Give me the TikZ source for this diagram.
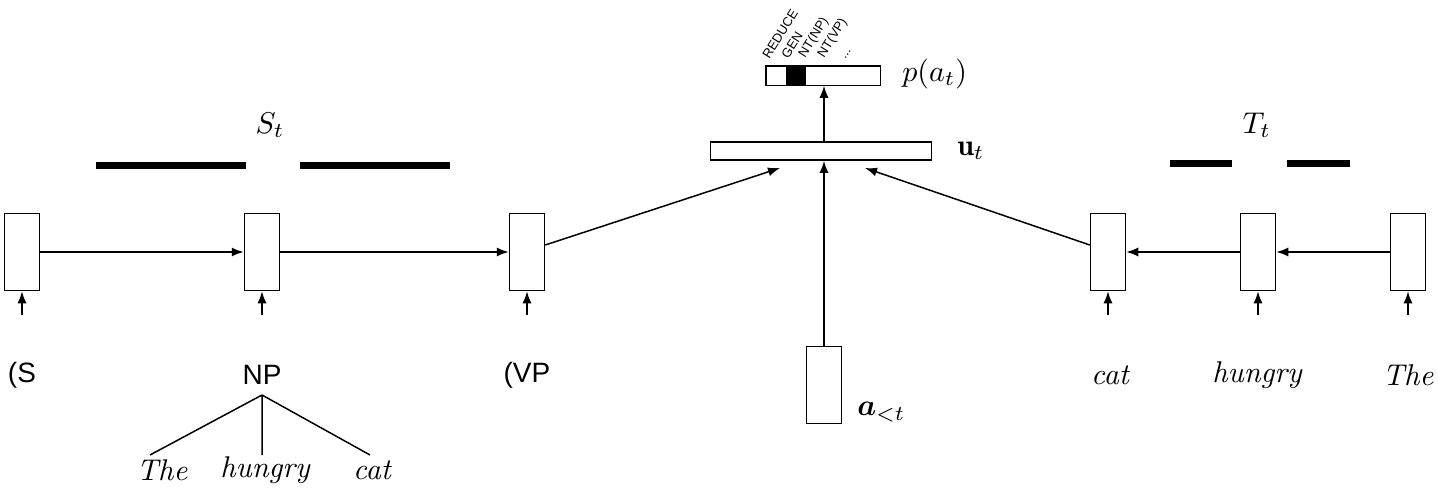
\documentclass[tikz,border=0pt]{standalone}
\usepackage{amsmath}
\usepackage{fontspec}
\newfontfamily\helv{Liberation Sans}
\usetikzlibrary{arrows.meta}
\begin{document}
\begin{tikzpicture}[x=1pt,y=-1pt,line width=1.5pt,
 box/.style={draw,fill=white,inner sep=0,minimum width=35pt,minimum height=77pt},
 arr/.style={-{Latex[length=12pt,width=9pt]}},
 bar/.style={line width=7pt},
 sl/.style={font=\helv\fontsize{28}{30}\selectfont},
 it/.style={font=\itshape,scale=3},
 mt/.style={scale=3},
 small/.style={font=\helv\fontsize{13}{14}\selectfont,rotate=58,anchor=south west,inner sep=1pt}]
\useasboundingbox (0,0) rectangle (1438,495);
% left stack
\node[box] (b1) at (22,252) {};
\node[box] (b2) at (262,252) {};
\node[box] (b3) at (527,252) {};
\node[sl] (l1) at (22,375) {(S};
\node[sl] (l2) at (262,375) {NP};
\node[sl] (l3) at (527,375) {(VP};
\foreach \i in {1,2,3}{\draw[arr] (b\i.south)++(0,24) -- (b\i.south);}
\draw[arr] (b1.east) -- (b2.west);
\draw[arr] (b2.east) -- (b3.west);
\node[mt] (St) at (270,125) {$S_t$};
\draw[bar] (96,165) -- (246,165);
\draw[bar] (300,165) -- (450,165);
% tree
\coordinate (np) at (262,395);
\node[it] (w1) at (162,470) {The};
\node[it] (w2) at (265,470) {hungry};
\node[it] (w3) at (372,470) {cat};
\draw (np) -- (150,455) (np) -- (262,455) (np) -- (370,455);
% right stack
\node[box] (r1) at (1108,252) {};
\node[box] (r2) at (1258,252) {};
\node[box] (r3) at (1408,252) {};
\node[it] (m1) at (1110,375) {cat};
\node[it] (m2) at (1257,375) {hungry};
\node[it] (m3) at (1408,375) {The};
\foreach \i in {1,2,3}{\draw[arr] (r\i.south)++(0,24) -- (r\i.south);}
\draw[arr] (r3.west) -- (r2.east);
\draw[arr] (r2.west) -- (r1.east);
\node[mt] (Tt) at (1257,125) {$T_t$};
\draw[bar] (1170,163) -- (1232,163);
\draw[bar] (1287,163) -- (1350,163);
% center
\node[draw,minimum width=221pt,minimum height=18pt,inner sep=0] (u) at (821,151) {};
\node[mt,anchor=west] (ul) at (945,151) {$\mathbf{u}_t$};
\node[box] (a) at (824,385) {};
\node[mt,anchor=west] (al) at (845,412) {$\boldsymbol{a}_{<t}$};
\draw[arr] (a.north) -- (a.north |- u.south);
\draw[arr] (b3.east |- 0,245) -- (780,168);
\draw[arr] (r1.west |- 0,245) -- (865,168);
\node[minimum width=113pt,minimum height=18pt,inner sep=0] (p) at (823,76) {};
\fill (786,67) rectangle (806,85);
\draw (p.north west) rectangle (p.south east);
\draw[arr] (a.north |- u.north) -- (a.north |- p.south);
\node[mt,anchor=west] (pl) at (890,74) {$p(a_t)$};
\node[small] at (770,62) {REDUCE};
\node[small] at (789,62) {GEN};
\node[small] at (808,62) {NT(NP)};
\node[small] at (827,62) {NT(VP)};
\node[small] at (846,62) {...};
\end{tikzpicture}
\end{document}
